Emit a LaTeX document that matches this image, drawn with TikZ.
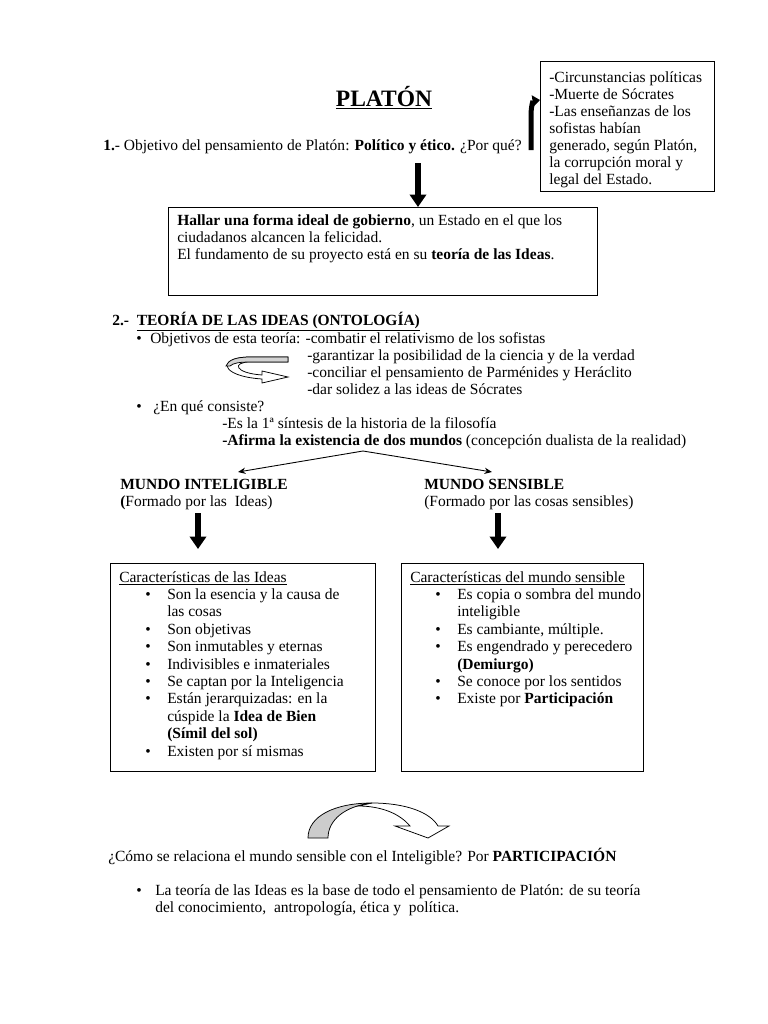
\documentclass[tikz,border=0pt]{standalone}
\usepackage{fontspec}
\setmainfont{Liberation Serif}
\usetikzlibrary{arrows.meta}
\newcommand{\lh}{17.4}
\newcommand{\ct}{582}
\tikzstyle{txt}=[anchor=base west,inner sep=0pt,font=\fontsize{12.4}{14}\selectfont]
\tikzstyle{caja}=[line width=0.8pt]
\tikzstyle{flecha}=[line width=5pt,-{Triangle[length=10pt,width=13pt]}]
\tikzstyle{fina}=[line width=0.7pt,-{Stealth[length=6pt,width=5pt]}]
\tikzstyle{cinta}=[line width=0.6pt]

\begin{document}
\begin{tikzpicture}[x=0.796875bp,y=-0.796875bp]
\useasboundingbox[fill=white] (0,0) rectangle (768,1024);

% titulo y punto 1
\node[txt,anchor=base,font=\fontsize{18.8}{20}\selectfont\bfseries] (titulo) at (384,106) {\underline{PLATÓN}};
\node[txt] (obj) at (103,150) {\textbf{1.}- Objetivo del pensamiento de Platón: \textbf{Político y ético.} ¿Por qué?};

\draw[caja] (540,61) rectangle (714,191);
\foreach \k/\t in {0/-Circunstancias políticas,1/-Muerte de Sócrates,2/-Las enseñanzas de los,3/sofistas habían,4/{generado, según Platón,},5/la corrupción moral y,6/legal del Estado.}
  \node[txt] (raz\k) at (549,{82+17*\k}) {\t};

\coordinate (porque) at (531,150);
\coordinate (razon) at (540,100);
\draw[line width=4pt,-{Triangle[length=6pt,width=9pt]}] (porque) -- (531,116) .. controls (531,106) and (533,101) .. (razon);

\coordinate (f1a) at (418,163);
\coordinate (f1b) at (418,207);
\draw[flecha] (f1a) -- (f1b);

\draw[caja] (168,207) rectangle (597,295);
\node[txt] (meta1) at (177,225) {\textbf{Hallar una forma ideal de gobierno}, un Estado en el que los};
\node[txt] (meta2) at (177,242) {ciudadanos alcancen la felicidad.};
\node[txt] (meta3) at (177,259) {El fundamento de su proyecto está en su \textbf{teoría de las Ideas}.};

% punto 2
\node[txt] (sec2) at (112,325) {\textbf{2.-\ \ \underline{TEORÍA DE LAS IDEAS (ONTOLOGÍA)}}};
\node[txt] (b1) at (136,343) {\textbullet};
\node[txt] (objs) at (150,343) {Objetivos de esta teoría: -combatir el relativismo de los sofistas};
\foreach \k/\t in {1/-garantizar la posibilidad de la ciencia y de la verdad,2/-conciliar el pensamiento de Parménides y Heráclito,3/-dar solidez a las ideas de Sócrates}
  \node[txt] (objs\k) at (307,{343+17*\k}) {\t};

% flecha circular
\draw[cinta,fill=white] (288,357) -- (250,357) .. controls (218,357) and (218,376) .. (262,379)
  -- (262,383) -- (288,377) -- (262,371) -- (262,375) .. controls (234,373) and (232,362) .. (250,362) -- (288,362) -- cycle;
\draw[cinta,fill=gray!35] (288,357) -- (250,357) .. controls (236,357) and (228,360) .. (226,366)
  -- (230,366) .. controls (233,363) and (240,362) .. (250,362) -- (288,362) -- cycle;

\node[txt] (b2) at (136,411) {\textbullet};
\node[txt] (cons) at (153,411) {¿En qué consiste?};
\node[txt] (cons1) at (222,428) {-Es la 1ª síntesis de la historia de la filosofía};
\node[txt] (cons2) at (222,445) {\textbf{-Afirma la existencia de dos mundos} (concepción dualista de la realidad)};

\coordinate (vert) at (363,451);
\coordinate (izqp) at (238,472);
\coordinate (derp) at (492,472);
\draw[fina] (vert) -- (izqp);
\draw[fina] (vert) -- (derp);

% dos mundos
\node[txt] (mi) at (120,489) {\textbf{MUNDO INTELIGIBLE}};
\node[txt] (mi2) at (120,506) {\textbf{(}Formado por las\ \ Ideas)};
\node[txt] (ms) at (424,489) {\textbf{MUNDO SENSIBLE}};
\node[txt] (ms2) at (424,506) {(Formado por las cosas sensibles)};

\coordinate (f2a) at (198,513);
\coordinate (f2b) at (198,549);
\coordinate (f3a) at (498,513);
\coordinate (f3b) at (498,549);
\draw[flecha] (f2a) -- (f2b);
\draw[flecha] (f3a) -- (f3b);

\draw[caja] (110,563) rectangle (375,771);
\draw[caja] (401,563) rectangle (643,771);

\node[txt] (ci0) at (119,\ct) {\underline{Características de las Ideas}};
\foreach \k/\t in {1/Son la esencia y la causa de,2/las cosas,3/Son objetivas,4/Son inmutables y eternas,5/Indivisibles e inmateriales,6/Se captan por la Inteligencia,7/Están jerarquizadas: en la,8/cúspide la \textbf{Idea de Bien},9/\textbf{(Símil del sol)},10/Existen por sí mismas}
  \node[txt] (ci\k) at (167,{\ct+\lh*\k}) {\t};
\foreach \k in {1,3,4,5,6,7,10}
  \node[txt] (pi\k) at (145,{\ct+\lh*\k}) {\textbullet};

\node[txt] (cs0) at (410,\ct) {\underline{Características del mundo sensible}};
\foreach \k/\t in {1/Es copia o sombra del mundo,2/inteligible,3/{Es cambiante, múltiple.},4/Es engendrado y perecedero,5/\textbf{(Demiurgo)},6/Se conoce por los sentidos,7/Existe por \textbf{Participación}}
  \node[txt] (cs\k) at (457,{\ct+\lh*\k}) {\t};
\foreach \k in {1,3,4,6,7}
  \node[txt] (ps\k) at (435,{\ct+\lh*\k}) {\textbullet};

% flecha curva de abajo
\draw[cinta,fill=white] (372,803) .. controls (405,803) and (430,812) .. (438,826) -- (449,826) -- (428,838)
  -- (395,826) -- (410,826) .. controls (400,814) and (382,806) .. (358,806) -- cycle;
\draw[cinta,fill=gray!40] (308,838) .. controls (308,816) and (335,803) .. (372,803)
  .. controls (345,806) and (328,820) .. (328,838) -- cycle;

\node[txt] (rel) at (108,861) {¿Cómo se relaciona el mundo sensible con el Inteligible? Por \textbf{PARTICIPACIÓN}};
\node[txt] (b3) at (136,895) {\textbullet};
\node[txt] (base1) at (155,895) {La teoría de las Ideas es la base de todo el pensamiento de Platón: de su teoría};
\node[txt] (base2) at (155,912) {del conocimiento,\ \ antropología, ética y\ \ política.};

\end{tikzpicture}
\end{document}
